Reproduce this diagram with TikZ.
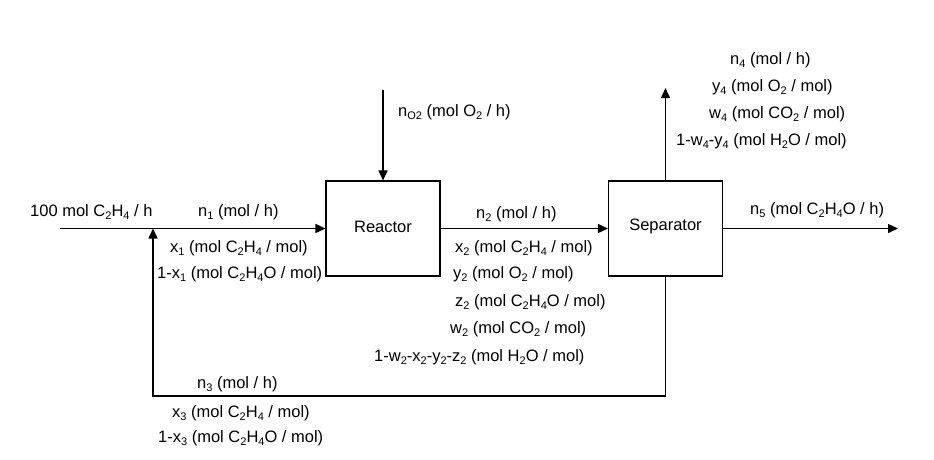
\documentclass[tikz,border=0pt]{standalone}
\usepackage{fontspec}
\setmainfont{Liberation Sans}
\usetikzlibrary{arrows.meta}
\newcommand\sbs[1]{\raisebox{-0.35ex}{\fontsize{11}{11}\selectfont #1}}
\tikzset{
  unitbox/.style={draw, line width=1.1pt, minimum width=114pt, minimum height=95pt, inner sep=0pt},
  flow/.style={line width=1.5pt, -{Triangle[length=10pt,width=9pt]}},
  lbl/.style={anchor=base west, inner sep=0pt, font=\fontsize{16.5}{16.5}\selectfont},
}
\begin{document}
\begin{tikzpicture}[x=1pt,y=-1pt]
\useasboundingbox (0,0) rectangle (934,459);
\node[unitbox] (reac) at (383,228.5) {};
\node[font=\fontsize{16.5}{16.5}\selectfont] (reactxt) at (383,227) {Reactor};
\node[unitbox] (sep) at (665.5,228.5) {};
\node[font=\fontsize{16.5}{16.5}\selectfont] (septxt) at (665.5,226) {Separator};
\coordinate (feed) at (60,228.5);
\coordinate (mix) at (153,228.5);
\coordinate (o2in) at (383,90);
\coordinate (topout) at (665.5,88);
\coordinate (prod) at (898,228.5);
\coordinate (rb) at (665.5,396);
\coordinate (lb) at (153,396);
\draw[flow] (feed) -- (reac.west);
\draw[flow] (o2in) -- (reac.north);
\draw[flow] (reac.east) -- (sep.west);
\draw[flow] (sep.north) -- (topout);
\draw[flow] (sep.east) -- (prod);
\draw[flow] (sep.south) -- (rb) -- (lb) -- (mix);
% labels
\node[lbl] (l1) at (30,216) {100 mol C\sbs{2}H\sbs{4} / h};
\node[lbl] (l2) at (198,216) {n\sbs{1} (mol / h)};
\node[lbl] (l3) at (170,252) {x\sbs{1} (mol C\sbs{2}H\sbs{4} / mol)};
\node[lbl] (l4) at (157,278) {1-x\sbs{1} (mol C\sbs{2}H\sbs{4}O / mol)};
\node[lbl] (l5) at (398,116) {n\sbs{O2} (mol O\sbs{2} / h)};
\node[lbl] (l6) at (476,218) {n\sbs{2} (mol / h)};
\node[lbl] (l7) at (455,252) {x\sbs{2} (mol C\sbs{2}H\sbs{4} / mol)};
\node[lbl] (l8) at (453,278) {y\sbs{2} (mol O\sbs{2} / mol)};
\node[lbl] (l9) at (455,306) {z\sbs{2} (mol C\sbs{2}H\sbs{4}O / mol)};
\node[lbl] (l10) at (450,333) {w\sbs{2} (mol CO\sbs{2} / mol)};
\node[lbl] (l11) at (374,361) {1-w\sbs{2}-x\sbs{2}-y\sbs{2}-z\sbs{2} (mol H\sbs{2}O / mol)};
\node[lbl] (l12) at (730,64) {n\sbs{4} (mol / h)};
\node[lbl] (l13) at (712,91) {y\sbs{4} (mol O\sbs{2} / mol)};
\node[lbl] (l14) at (709,118) {w\sbs{4} (mol CO\sbs{2} / mol)};
\node[lbl] (l15) at (676,145) {1-w\sbs{4}-y\sbs{4} (mol H\sbs{2}O / mol)};
\node[lbl] (l16) at (750,214) {n\sbs{5} (mol C\sbs{2}H\sbs{4}O / h)};
\node[lbl] (l17) at (197,388) {n\sbs{3} (mol / h)};
\node[lbl] (l18) at (172,417) {x\sbs{3} (mol C\sbs{2}H\sbs{4} / mol)};
\node[lbl] (l19) at (158,442) {1-x\sbs{3} (mol C\sbs{2}H\sbs{4}O / mol)};
\end{tikzpicture}
\end{document}
